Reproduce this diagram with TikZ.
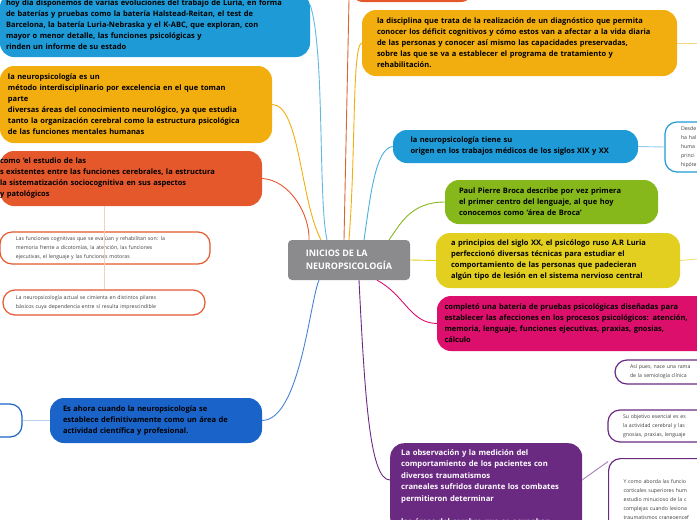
\documentclass[tikz,border=0pt]{standalone}
\usepackage{fontspec}
\setmainfont{Open Sans}
\usetikzlibrary{calc}
\definecolor{cblue}{HTML}{1E9AD6}
\definecolor{corange}{HTML}{F2AE0E}
\definecolor{cred}{HTML}{E4582C}
\definecolor{cdblue}{HTML}{1A63C9}
\definecolor{cgreen}{HTML}{86B81C}
\definecolor{cyellow}{HTML}{E2CF1F}
\definecolor{cpink}{HTML}{DD0F6C}
\definecolor{cpurple}{HTML}{6B2A82}
\definecolor{cgray}{HTML}{8B8B8E}
\tikzset{topic/.style={rounded corners=14pt, inner sep=0pt, align=left, font=\bfseries\fontsize{7.5}{11}\selectfont},
         sub/.style={draw, line width=1.2pt, fill=white, rounded corners=12pt, inner sep=0pt, align=left, text=black!75, font=\fontsize{5.2}{9}\selectfont},
         link/.style={line width=0.9pt}}
\begin{document}
\begin{tikzpicture}[x=1pt,y=-1pt]
\useasboundingbox (0,0) rectangle (697,520);
\clip (0,0) rectangle (697,520);

% main topic
\node (root) [fill=cgray, rounded corners=4pt, minimum width=122pt, minimum height=40pt, inner sep=0pt, text=white, align=left, font=\bfseries\fontsize{9}{13}\selectfont] at (349,260) {INICIOS DE LA\\NEUROPSICOLOGÍA};

% left side
\node (luria) [topic, fill=cblue, minimum width=310pt, minimum height=64pt, text width=298pt] at (155,25) {hoy día disponemos de varias evoluciones del trabajo de Luria, en forma\\de baterías y pruebas como la batería Halstead-Reitan, el test de\\Barcelona, la batería Luria-Nebraska y el K-ABC, que exploran, con\\mayor o menor detalle, las funciones psicológicas y\\rinden un informe de su estado};
\node (metodo) [topic, fill=corange, minimum width=272pt, minimum height=77pt, text width=256pt] at (136,104.5) {la neuropsicología es un\\método interdisciplinario por excelencia en el que toman\\parte\\diversas áreas del conocimiento neurológico, ya que estudia\\tanto la organización cerebral como la estructura psicológica\\de las funciones mentales humanas};
\node (estudio) [topic, fill=cred, minimum width=262pt, minimum height=55pt, text width=262pt] at (131,178.5) {como 'el estudio de las\\s existentes entre las funciones cerebrales, la estructura\\ la sistematización sociocognitiva en sus aspectos\\y patológicos};
\node (funciones) [sub, draw=cred, minimum width=210pt, minimum height=32pt, text width=178pt] at (105,248) {Las funciones cognitivas que se evalúan y rehabilitan son: la\\memoria frente a dicotomías, la atención, las funciones\\ejecutivas, el lenguaje y las funciones motoras};
\node (pilares) [sub, draw=cred, minimum width=202pt, minimum height=25pt, text width=176pt] at (104,302.5) {La neuropsicología actual se cimienta en distintos pilares\\básicos cuya dependencia entre sí resulta imprescindible};
\node (ahora) [topic, fill=cdblue, minimum width=212pt, minimum height=45pt, text width=186pt] at (156,420.5) {Es ahora cuando la neuropsicología se\\establece definitivamente como un área de\\actividad científica y profesional.};
\node (ahorasub) [sub, draw=cdblue, minimum width=60pt, minimum height=33pt] at (-8,420.5) {};

% right side
\node (toptopic) [topic, fill=cred, minimum width=125pt, minimum height=20pt] at (412,-8) {};
\node (disciplina) [topic, fill=corange, minimum width=315pt, minimum height=66pt, text width=285pt] at (519.5,43) {la disciplina que trata de la realización de un diagnóstico que permita\\conocer los déficit cognitivos y cómo estos van a afectar a la vida diaria\\de las personas y conocer así mismo las capacidades preservadas,\\sobre las que se va a establecer el programa de tratamiento y\\rehabilitación.};
\node (origen) [topic, fill=cblue, minimum width=245pt, minimum height=33pt, text width=210pt] at (515.5,146.5) {la neuropsicología tiene su\\origen en los trabajos médicos de los siglos XIX y XX};
\node (desde) [sub, draw=cblue, minimum width=60pt, minimum height=50pt, text width=28pt] at (695,147) {Desde\\ha hal\\huma\\princi\\hipóte};
\node (broca) [topic, fill=cgreen, minimum width=213pt, minimum height=44pt, text width=185pt] at (551.5,202) {Paul Pierre Broca describe por vez primera\\el primer centro del lenguaje, al que hoy\\conocemos como 'área de Broca'};
\node (siglo) [topic, fill=cyellow, minimum width=244pt, minimum height=55pt, text width=214pt] at (558,260.5) {a principios del siglo XX, el psicólogo ruso A.R Luria\\perfeccionó diversas técnicas para estudiar el\\comportamiento de las personas que padecieran\\algún tipo de lesión en el sistema nervioso central};
\node (bateria) [topic, fill=cpink, minimum width=290pt, minimum height=55pt, text width=275pt] at (582,323.5) {completó una batería de pruebas psicológicas diseñadas para\\establecer las afecciones en los procesos psicológicos: atención,\\memoria, lenguaje, funciones ejecutivas, praxias, gnosias,\\cálculo};
\node (observa) [topic, fill=cpurple, text=white, minimum width=192pt, inner xsep=11pt, inner ysep=6pt, text width=170pt, anchor=north west, font=\bfseries\fontsize{7.7}{11.5}\selectfont] at (390,443) {La observación y la medición del\\comportamiento de los pacientes con\\diversos traumatismos\\craneales sufridos durante los combates\\permitieron determinar\\[11.5pt]las áreas del cerebro que se ocupaban\\[30pt]};
\node (asi) [sub, draw=cpurple, minimum width=110pt, minimum height=24pt, text width=80pt] at (670,372) {Así pues, nace una rama\\de la semiología clínica};
\node (objetivo) [sub, draw=cpurple, minimum width=120pt, minimum height=32pt, text width=90pt] at (668,426) {Su objetivo esencial es es\\la actividad cerebral y las\\gnosias, praxias, lenguaje};
\node (aborda) [sub, draw=cpurple, minimum width=120pt, minimum height=90pt, text width=90pt, anchor=north west] at (608,458) {\\[-2pt]Y como aborda las funcio\\corticales superiores hum\\estudio minucioso de la c\\complejas cuando lesiona\\traumatismos craneoencef\\cerebrovasculares, epilep};

% connections
\draw [link, cblue!70] ([yshift=20pt]luria.east) .. controls (325,50) and (318,200) .. ([xshift=-22pt]root.north);
\draw [link, corange] (metodo.east) .. controls (300,105) and (300,200) .. ([xshift=-28pt]root.north);
\draw [link, cred] (estudio.east) .. controls (290,180) and (310,215) .. ([xshift=-40pt]root.north);
\draw [link, cred!30] (estudio.south -| pilares.north) -- (pilares.north);
\draw [link, cred!70!brown] (349,0) -- ([xshift=-5pt]root.north);
\draw [link, corange] (disciplina.west) .. controls (352,45) and (356,150) .. (root.north);
\draw [link, corange!50] (disciplina.east) -- (697,43);
\draw [link, cblue!80] (origen.west) .. controls (375,148) and (370,200) .. ([xshift=15pt]root.north);
\draw [link, cblue!50] (origen.east) -- (desde.west);
\draw [link, cgreen] (broca.west) .. controls (410,202) and (400,225) .. ([xshift=40pt]root.north);
\draw [link, cyellow] (root.east) -- (siglo.west);
\draw [link, cyellow!60] (siglo.east) -- (697,259);
\draw [link, cpink] (bateria.west) .. controls (410,323) and (405,295) .. ([xshift=28pt]root.south);
\draw [link, cdblue!80] (ahora.east) .. controls (300,420) and (310,300) .. ([xshift=-30pt]root.south);
\draw [link, cdblue!30] (ahorasub.east) -- (ahora.west);
\draw [link, cpurple] ([xshift=10pt]root.south) .. controls (365,400) and (370,480) .. (390,480);
\draw [link, cpurple!60] (582,480) -- ([yshift=42pt]aborda.west);
\end{tikzpicture}
\end{document}
